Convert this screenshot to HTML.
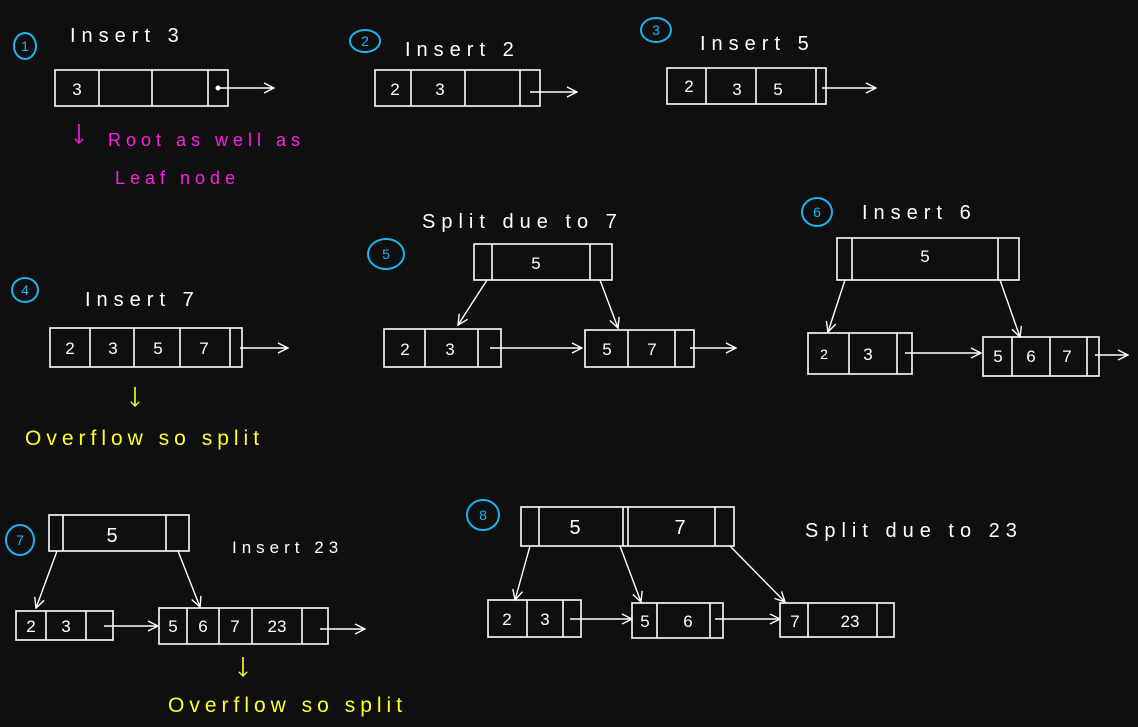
<!DOCTYPE html>
<html><head><meta charset="utf-8"><style>
html,body{margin:0;padding:0;background:#0f0f0f;}
svg{display:block}
text{font-family:"Liberation Sans",sans-serif;}
.w{fill:#fff;font-size:20px;letter-spacing:6px}
.n{fill:#fff;font-size:17px;text-anchor:middle}
.m{fill:#ff1ee8;font-size:18px;letter-spacing:5px}
.y{fill:#ffff2a;font-size:21px;letter-spacing:5px}
.c{fill:none;stroke:#1ab4f0;stroke-width:2}
.cn{fill:#1ab4f0;font-size:14px;text-anchor:middle}
rect,line.d{fill:none;stroke:#fff;stroke-width:1.6}
.a{stroke:#fff;stroke-width:1.4;fill:none;marker-end:url(#ar)}
</style></head><body>
<svg width="1138" height="727" viewBox="0 0 1138 727">
<defs>
<marker id="ar" viewBox="0 0 12 12" refX="11" refY="6" markerWidth="12" markerHeight="12" markerUnits="userSpaceOnUse" orient="auto"><path d="M1,1 L11,6 L1,11" fill="none" stroke="#fff" stroke-width="1.4"/></marker>
<marker id="ay" viewBox="0 0 12 12" refX="6" refY="11" markerWidth="10" markerHeight="10" markerUnits="userSpaceOnUse" orient="0"><path d="M1,6 L6,11 L11,6" fill="none" stroke="#ffff2a" stroke-width="1.6"/></marker>
<marker id="am" viewBox="0 0 12 12" refX="6" refY="11" markerWidth="10" markerHeight="10" markerUnits="userSpaceOnUse" orient="0"><path d="M1,6 L6,11 L11,6" fill="none" stroke="#ff1ee8" stroke-width="1.6"/></marker>
</defs>

<!-- 1 -->
<ellipse class="c" cx="25" cy="46" rx="11" ry="13"/><text class="cn" x="25" y="51">1</text>
<text class="w" x="70" y="42">Insert 3</text>
<rect x="55" y="70" width="173" height="36"/>
<line class="d" x1="99" y1="70" x2="99" y2="106"/><line class="d" x1="152" y1="70" x2="152" y2="106"/><line class="d" x1="208" y1="70" x2="208" y2="106"/>
<text class="n" x="77" y="95">3</text>
<circle cx="218" cy="88" r="2.5" fill="#fff"/>
<line class="a" x1="218" y1="88" x2="274" y2="88"/>
<line x1="79" y1="124" x2="79" y2="143" stroke="#ff1ee8" stroke-width="1.6" marker-end="url(#am)"/>
<text class="m" x="108" y="146">Root as well as</text>
<text class="m" x="115" y="184">Leaf node</text>

<!-- 2 -->
<ellipse class="c" cx="365" cy="41" rx="15" ry="11"/><text class="cn" x="365" y="46">2</text>
<text class="w" x="405" y="56">Insert 2</text>
<rect x="375" y="70" width="165" height="36"/>
<line class="d" x1="411" y1="70" x2="411" y2="106"/><line class="d" x1="465" y1="70" x2="465" y2="106"/><line class="d" x1="520" y1="70" x2="520" y2="106"/>
<text class="n" x="395" y="95">2</text><text class="n" x="440" y="95">3</text>
<line class="a" x1="530" y1="92" x2="577" y2="92"/>

<!-- 3 -->
<ellipse class="c" cx="656" cy="30" rx="15" ry="12"/><text class="cn" x="656" y="35">3</text>
<text class="w" x="700" y="50">Insert 5</text>
<rect x="667" y="68" width="159" height="36"/>
<line class="d" x1="706" y1="68" x2="706" y2="104"/><line class="d" x1="756" y1="68" x2="756" y2="104"/><line class="d" x1="816" y1="68" x2="816" y2="104"/>
<text class="n" x="689" y="92">2</text><text class="n" x="737" y="95">3</text><text class="n" x="778" y="95">5</text>
<line class="a" x1="822" y1="88" x2="876" y2="88"/>

<!-- 4 -->
<ellipse class="c" cx="25" cy="290" rx="13" ry="12"/><text class="cn" x="25" y="295">4</text>
<text class="w" x="85" y="306">Insert 7</text>
<rect x="50" y="328" width="192" height="39"/>
<line class="d" x1="90" y1="328" x2="90" y2="367"/><line class="d" x1="134" y1="328" x2="134" y2="367"/><line class="d" x1="180" y1="328" x2="180" y2="367"/><line class="d" x1="230" y1="328" x2="230" y2="367"/>
<text class="n" x="70" y="354">2</text><text class="n" x="113" y="354">3</text><text class="n" x="158" y="354">5</text><text class="n" x="204" y="354">7</text>
<line class="a" x1="240" y1="348" x2="288" y2="348"/>
<line x1="135" y1="387" x2="135" y2="406" stroke="#ffff2a" stroke-width="1.6" marker-end="url(#ay)"/>
<text class="y" x="25" y="445">Overflow so split</text>

<!-- 5 -->
<text class="w" x="422" y="228">Split due to 7</text>
<ellipse class="c" cx="386" cy="254" rx="18" ry="15"/><text class="cn" x="386" y="259">5</text>
<rect x="474" y="244" width="138" height="36"/>
<line class="d" x1="492" y1="244" x2="492" y2="280"/><line class="d" x1="590" y1="244" x2="590" y2="280"/>
<text class="n" x="536" y="269">5</text>
<line class="a" x1="487" y1="280" x2="458" y2="325"/>
<line class="a" x1="600" y1="280" x2="618" y2="328"/>
<rect x="384" y="329" width="117" height="38"/>
<line class="d" x1="425" y1="329" x2="425" y2="367"/><line class="d" x1="478" y1="329" x2="478" y2="367"/>
<text class="n" x="405" y="355">2</text><text class="n" x="450" y="355">3</text>
<line class="a" x1="490" y1="348" x2="582" y2="348"/>
<rect x="585" y="330" width="109" height="37"/>
<line class="d" x1="628" y1="330" x2="628" y2="367"/><line class="d" x1="675" y1="330" x2="675" y2="367"/>
<text class="n" x="607" y="355">5</text><text class="n" x="652" y="355">7</text>
<line class="a" x1="690" y1="348" x2="736" y2="348"/>

<!-- 6 -->
<ellipse class="c" cx="817" cy="212" rx="15" ry="14"/><text class="cn" x="817" y="217">6</text>
<text class="w" x="862" y="219">Insert 6</text>
<rect x="837" y="238" width="182" height="42"/>
<line class="d" x1="852" y1="238" x2="852" y2="280"/><line class="d" x1="998" y1="238" x2="998" y2="280"/>
<text class="n" x="925" y="262">5</text>
<line class="a" x1="845" y1="280" x2="828" y2="332"/>
<line class="a" x1="1000" y1="280" x2="1020" y2="337"/>
<rect x="808" y="333" width="104" height="41"/>
<line class="d" x1="849" y1="333" x2="849" y2="374"/><line class="d" x1="897" y1="333" x2="897" y2="374"/>
<text class="n" x="824" y="359" style="font-size:14px">2</text><text class="n" x="868" y="360">3</text>
<line class="a" x1="905" y1="353" x2="981" y2="353"/>
<rect x="983" y="337" width="116" height="39"/>
<line class="d" x1="1012" y1="337" x2="1012" y2="376"/><line class="d" x1="1050" y1="337" x2="1050" y2="376"/><line class="d" x1="1087" y1="337" x2="1087" y2="376"/>
<text class="n" x="998" y="362">5</text><text class="n" x="1031" y="362">6</text><text class="n" x="1067" y="362">7</text>
<line class="a" x1="1095" y1="355" x2="1128" y2="355"/>

<!-- 7 -->
<ellipse class="c" cx="20" cy="540" rx="14" ry="15"/><text class="cn" x="20" y="545">7</text>
<rect x="49" y="515" width="140" height="36"/>
<line class="d" x1="63" y1="515" x2="63" y2="551"/><line class="d" x1="166" y1="515" x2="166" y2="551"/>
<text class="n" x="112" y="542" style="font-size:20px">5</text>
<text class="w" x="232" y="553" style="font-size:17px;letter-spacing:5px">Insert 23</text>
<line class="a" x1="57" y1="551" x2="36" y2="608"/>
<line class="a" x1="178" y1="551" x2="200" y2="607"/>
<rect x="16" y="611" width="97" height="29"/>
<line class="d" x1="46" y1="611" x2="46" y2="640"/><line class="d" x1="86" y1="611" x2="86" y2="640"/>
<text class="n" x="31" y="632">2</text><text class="n" x="66" y="632">3</text>
<line class="a" x1="104" y1="626" x2="158" y2="626"/>
<rect x="159" y="608" width="169" height="36"/>
<line class="d" x1="187" y1="608" x2="187" y2="644"/><line class="d" x1="219" y1="608" x2="219" y2="644"/><line class="d" x1="252" y1="608" x2="252" y2="644"/><line class="d" x1="302" y1="608" x2="302" y2="644"/>
<text class="n" x="173" y="632">5</text><text class="n" x="203" y="632">6</text><text class="n" x="235" y="632">7</text><text class="n" x="277" y="632">23</text>
<line class="a" x1="320" y1="629" x2="365" y2="629"/>
<line x1="243" y1="657" x2="243" y2="676" stroke="#ffff2a" stroke-width="1.6" marker-end="url(#ay)"/>
<text class="y" x="168" y="712">Overflow so split</text>

<!-- 8 -->
<ellipse class="c" cx="483" cy="515" rx="16" ry="15"/><text class="cn" x="483" y="520">8</text>
<rect x="521" y="507" width="213" height="39"/>
<line class="d" x1="539" y1="507" x2="539" y2="546"/><line class="d" x1="623" y1="507" x2="623" y2="546"/><line class="d" x1="628" y1="507" x2="628" y2="546"/><line class="d" x1="715" y1="507" x2="715" y2="546"/>
<text class="n" x="575" y="534" style="font-size:20px">5</text><text class="n" x="680" y="534" style="font-size:20px">7</text>
<text class="w" x="805" y="537">Split due to 23</text>
<line class="a" x1="530" y1="546" x2="515" y2="600"/>
<line class="a" x1="620" y1="546" x2="641" y2="602"/>
<line class="a" x1="730" y1="546" x2="785" y2="602"/>
<rect x="488" y="600" width="93" height="37"/>
<line class="d" x1="527" y1="600" x2="527" y2="637"/><line class="d" x1="563" y1="600" x2="563" y2="637"/>
<text class="n" x="507" y="625">2</text><text class="n" x="545" y="625">3</text>
<line class="a" x1="570" y1="619" x2="632" y2="619"/>
<rect x="632" y="603" width="91" height="35"/>
<line class="d" x1="657" y1="603" x2="657" y2="638"/><line class="d" x1="710" y1="603" x2="710" y2="638"/>
<text class="n" x="645" y="627">5</text><text class="n" x="688" y="627">6</text>
<line class="a" x1="715" y1="619" x2="780" y2="619"/>
<rect x="780" y="603" width="114" height="34"/>
<line class="d" x1="808" y1="603" x2="808" y2="637"/><line class="d" x1="877" y1="603" x2="877" y2="637"/>
<text class="n" x="795" y="627">7</text><text class="n" x="850" y="627">23</text>
</svg>
</body></html>
